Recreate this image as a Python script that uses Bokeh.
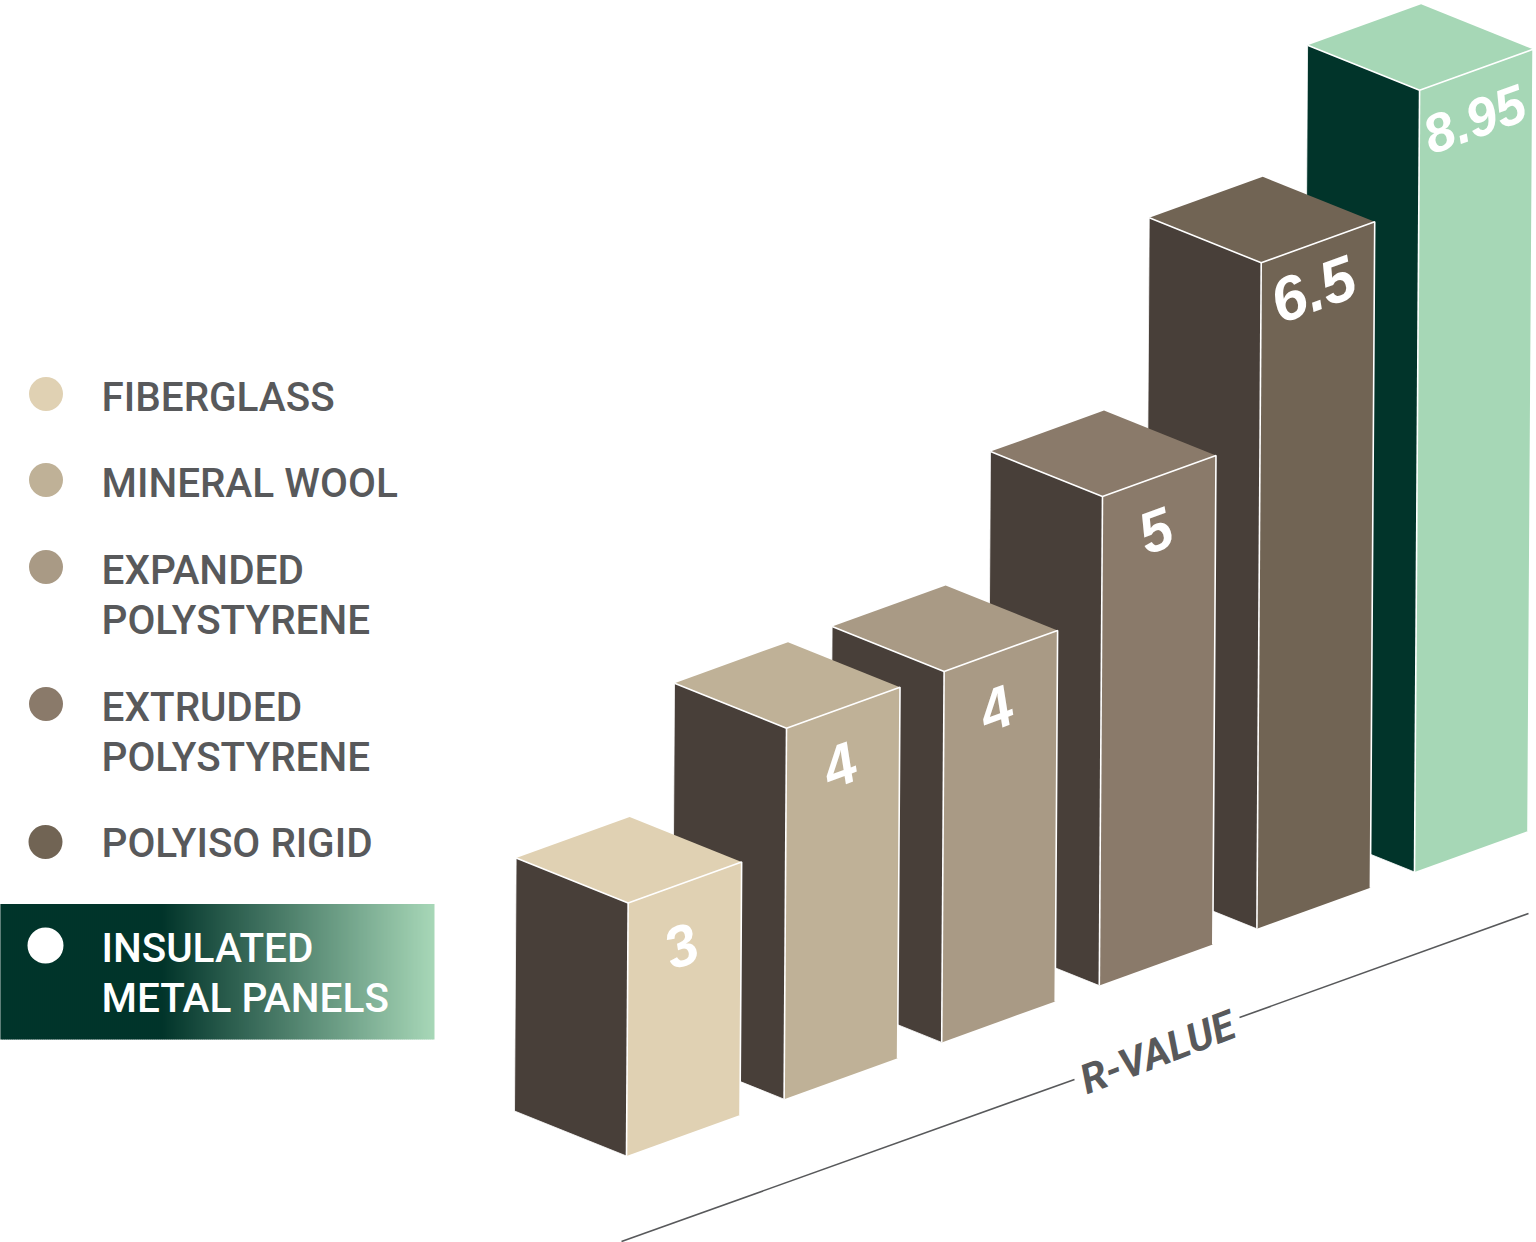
from bokeh.plotting import figure
from bokeh.embed import file_html
from bokeh.resources import INLINE
from bokeh.core.properties import value
from bokeh.models import Range1d
import math

# ---- data -------------------------------------------------------------
categories = ["FIBERGLASS", "MINERAL WOOL", "EXPANDED POLYSTYRENE",
              "EXTRUDED POLYSTYRENE", "POLYISO RIGID", "INSULATED METAL PANELS"]
r_values = [3, 4, 4, 5, 6.5, 8.95]
r_labels = ["3", "4", "4", "5", "6.5", "8.95"]
# the source drawing foreshortens the tallest bar: value as actually drawn
drawn_values = [3, 4, 4, 5, 6.5, 7.48]
front_colors = ["#e0d1b3", "#bfb197", "#a99a85", "#8a7a6a", "#716454", "#a6d7b6"]
side_colors = ["#483f39", "#483f39", "#483f39", "#483f39", "#483f39", "#01342a"]
legend_lines = [["FIBERGLASS"], ["MINERAL WOOL"], ["EXPANDED", "POLYSTYRENE"],
                ["EXTRUDED", "POLYSTYRENE"], ["POLYISO RIGID"], ["INSULATED", "METAL PANELS"]]
axis_title = "R-VALUE"

# ---- layout (pixel space of the drawing) -------------------------------
W, H = 1536, 1242
p = figure(width=W, height=H, output_backend="svg", toolbar_location=None,
           x_range=Range1d(0, W), y_range=Range1d(H, 0), min_border=0,
           outline_line_color=None, border_fill_color="white", background_fill_color="white")
p.axis.visible = False
p.grid.visible = False

BASE_X, BASE_Y = 626.0, 1155.5
STEP_X, STEP_Y = 157.6, -56.8
UNIT, OFFSET = 118.0, -101.0
LEAN = 0.0065
LX, LY = -112.0, -45.0
RX, RY = 113.5, -41.0
ANGLE = math.radians(20)
label_dx = [53, 53, 52, 53, 52, 55]
label_dy = [43, 37, 37, 34, 27, 29]
label_size = ["58px", "58px", "58px", "58px", "62px", "54px"]

for i in reversed(range(len(drawn_values))):
    h = UNIT * drawn_values[i] + OFFSET
    bx = BASE_X + STEP_X * i
    by = BASE_Y + STEP_Y * i
    tx = bx + LEAN * h
    ty = by - h
    left_x = [bx, tx, tx + LX, bx + LX]
    left_y = [by, ty, ty + LY, by + LY]
    right_x = [bx, tx, tx + RX, bx + RX]
    right_y = [by, ty, ty + RY, by + RY]
    top_x = [tx, tx + RX, tx + RX + LX, tx + LX]
    top_y = [ty, ty + RY, ty + RY + LY, ty + LY]
    p.patches([left_x, right_x, top_x], [left_y, right_y, top_y],
              fill_color=[side_colors[i], front_colors[i], front_colors[i]], line_color=None)
    p.multi_line([[tx + LX, tx, tx + RX, bx + RX], [tx, bx], [tx + LX, bx + LX, bx]],
                 [[ty + LY, ty, ty + RY, by + RY], [ty, by], [ty + LY, by + LY, by]],
                 line_color="white", line_width=[1.6, 1.6, 0.8])
    p.text([tx + label_dx[i]], [ty + label_dy[i]], text=[r_labels[i]],
           angle=ANGLE, text_color="white", text_align="center", text_baseline="middle",
           text_font=value("Liberation Sans"), text_font_style="bold italic", text_font_size=label_size[i])

# axis line with the gap for its title
p.multi_line([[621, 1074], [1239, 1528]], [[1241, 1079], [1017, 913]],
             line_color="#58595b", line_width=1.6)
p.text([1157], [1052], text=[axis_title], angle=math.radians(21),
       text_color="#58595b", text_align="center", text_baseline="middle",
       text_font=value("Roboto"), text_font_style="bold italic", text_font_size="41px")

# legend band with a gradient
BAND_L, BAND_R, BAND_T, BAND_B = -4, 434, 903.5, 1039
GRAD_START = 160
c0, c1 = (1, 52, 42), (168, 216, 184)
xs = list(range(BAND_L, BAND_R, 2))
cols = []
for x in xs:
    t = max(0.0, (x - GRAD_START) / (BAND_R - GRAD_START))
    cols.append("#%02x%02x%02x" % tuple(round(a + (b - a) * t) for a, b in zip(c0, c1)))
p.quad(left=xs, right=[min(x + 2.6, BAND_R) for x in xs], top=[BAND_T] * len(xs), bottom=[BAND_B] * len(xs),
       fill_color=cols, line_color=None)

# legend
dot_x = [45.5, 45.5, 45.5, 45.5, 45, 45]
dot_y = [393.5, 479.5, 566.5, 703.5, 841.5, 945]
dot_r = [17, 17, 17, 17, 17, 18]
dot_c = front_colors[:5] + ["#ffffff"]
p.circle(dot_x, dot_y, radius=dot_r, fill_color=dot_c, line_color=None)
baselines = [[396], [482], [569, 619], [706, 756], [842], [947, 997]]
for i, (lines, ys) in enumerate(zip(legend_lines, baselines)):
    p.text([101] * len(lines), ys, text=lines, text_color="white" if i == 5 else "#58595b",
           text_align="left", text_baseline="alphabetic",
           text_font=value("Roboto Medium"), text_font_size="40.5px")

html = file_html(p, INLINE)
html = html.replace("<head>", "<head><style>html,body{margin:0;padding:0;overflow:hidden;background:#fff}</style>", 1)
open("out.html", "w").write(html)
